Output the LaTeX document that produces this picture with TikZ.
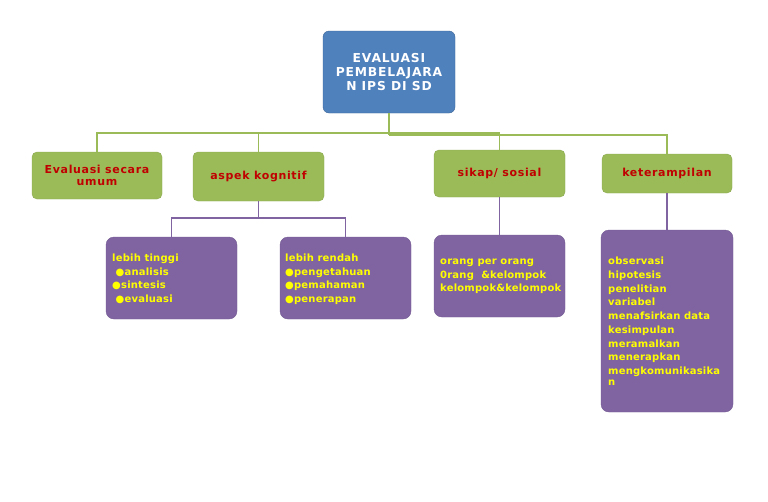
\documentclass[tikz,border=0pt]{standalone}
\usepackage{fontspec}
\setmainfont{DejaVu Sans}
\newfontfamily\topfont[LetterSpace=7]{DejaVu Sans Bold}
\newfontfamily\redfont[LetterSpace=6]{DejaVu Sans Bold}
\newfontfamily\yelfont[LetterSpace=2]{DejaVu Sans Bold}
\definecolor{cblue}{HTML}{4F81BD}
\definecolor{cgreen}{HTML}{9BBB59}
\definecolor{cpurple}{HTML}{8064A2}
\definecolor{cred}{HTML}{C00000}
\definecolor{cyel}{HTML}{FFFF00}
\tikzset{
  topbox/.style={fill=cblue, draw=cblue!80!black, line width=0.4pt, rounded corners=6pt, minimum width=132pt, minimum height=82pt, inner sep=0pt, align=center, text=white, font=\topfont\fontsize{12.3}{14}\selectfont},
  gbox/.style={fill=cgreen, draw=cgreen!90!black, line width=0.4pt, rounded corners=5pt, minimum width=130pt, inner sep=0pt, align=center, text=cred, font=\redfont\fontsize{11}{12}\selectfont},
  pbox/.style={fill=cpurple, draw=cpurple!90!black, line width=0.4pt, rounded corners=8pt, minimum width=131pt, inner sep=0pt},
  ptext/.style={anchor=north west, inner sep=0pt, align=left, text=cyel, font=\yelfont\fontsize{10}{13.7}\selectfont},
  gline/.style={draw=cgreen, line width=1.6pt},
  pline/.style={draw=cpurple, line width=1.3pt},
}
\begin{document}
\begin{tikzpicture}[x=1pt, y=-1pt]
\path[use as bounding box, fill=white] (0,0) rectangle (768,501);

\node[topbox] (top) at (389,72) {EVALUASI\\PEMBELAJARA\\N IPS DI SD};

\node[gbox, minimum height=47pt] (g1) at (97,175.5) {Evaluasi secara\\umum};
\node[gbox, minimum width=131pt, minimum height=49pt] (g2) at (258.5,176.5) {aspek kognitif};
\node[gbox, minimum width=131pt, minimum height=47pt] (g3) at (499.5,173.5) {sikap/ sosial};
\node[gbox, minimum height=39pt] (g4) at (667,173.5) {keterampilan};

\node[pbox, minimum height=82pt] (p1) at (171.5,278) {};
\node[pbox, minimum height=82pt] (p2) at (345.5,278) {};
\node[pbox, minimum height=82pt] (p3) at (499.5,276) {};
\node[pbox, minimum width=132pt, minimum height=182pt] (p4) at (667,321) {};

\node[ptext] (t1) at (112,253.5) {lebih tinggi\\\hspace*{3.5pt}●analisis\\●sintesis\\\hspace*{3.5pt}●evaluasi};
\node[ptext] (t2) at (285,253.5) {lebih rendah\\●pengetahuan\\●pemahaman\\●penerapan};
\node[ptext] (t3) at (440,258.5) {orang per orang\\0rang \ \&kelompok\\kelompok\&kelompok};
\node[ptext] (t4) at (608,257) {observasi\\hipotesis\\penelitian\\variabel\\menafsirkan data\\kesimpulan\\meramalkan\\menerapkan\\mengkomunikasika\\[-2.5pt]n};

\coordinate (j1) at (389,133);
\coordinate (j2) at (389,135);
\draw[gline] (top.south) -- (j2);
\draw[gline] (j1) -| (g1.north);
\draw[gline] (j1) -| (g2.north);
\draw[gline] (j1) -| (g3.north);
\draw[gline] (j2) -| (g4.north);

\coordinate (j3) at (258.5,218);
\draw[pline] (g2.south) -- (j3);
\draw[pline] (j3) -| (p1.north);
\draw[pline] (j3) -| (p2.north);
\draw[pline] (g3.south) -- (p3.north);
\draw[pline] (g4.south) -- (p4.north);
\end{tikzpicture}
\end{document}
